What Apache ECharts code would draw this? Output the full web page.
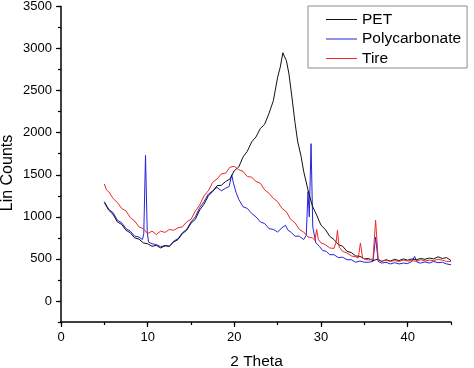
<!DOCTYPE html>
<html><head><meta charset="utf-8">
<script src="https://cdn.jsdelivr.net/npm/echarts@6/dist/echarts.min.js"></script>
<style>html,body{margin:0;padding:0;background:#fff}#c{width:474px;height:368px}</style>
</head><body><div id="c"></div>
<script>
const seriesNames = ['PET', 'Polycarbonate', 'Tire'];
const yMajorTicks = [0, 500, 1000, 1500, 2000, 2500, 3000, 3500];
const xMajorTicks = [0, 10, 20, 30, 40];
const petData = [[5.0,1170],[5.5,1080],[6.0,1030],[6.5,940],[7.0,910],[7.5,840],[8.0,810],[8.5,750],[9.0,735],[9.5,690],[10.0,680],[10.5,650],[11.0,660],[11.5,630],[12.0,655],[12.5,650],[13.0,700],[13.5,730],[14.0,800],[14.5,840],[15.0,925],[15.5,970],[16.0,1080],[16.5,1150],[17.0,1250],[17.5,1300],[18.0,1370],[18.5,1375],[19.0,1420],[19.5,1450],[20.0,1550],[20.5,1590],[21.0,1710],[21.5,1780],[22.0,1890],[22.5,1950],[23.0,2050],[23.5,2100],[24.0,2230],[24.5,2380],[25.0,2660],[25.3,2780],[25.6,2950],[25.8,2900],[26.0,2860],[26.3,2700],[26.6,2460],[27.0,2120],[27.3,1900],[27.7,1720],[28.0,1540],[28.5,1320],[29.0,1130],[29.5,1020],[30.0,900],[30.5,850],[31.0,770],[31.5,730],[32.0,670],[32.5,650],[33.0,590],[33.5,575],[34.0,535],[34.5,530],[35.0,500],[35.5,505],[36.0,480],[36.5,495],[37.0,470],[37.5,490],[38.0,475],[38.5,495],[39.0,480],[39.5,500],[40.0,485],[40.5,500],[41.0,490],[41.5,505],[42.0,495],[42.5,510],[43.0,500],[43.5,525],[44.0,505],[44.5,515],[45.0,480]];
const pcData = [[5.0,1180],[5.5,1090],[6.0,1050],[6.5,960],[7.0,930],[7.5,860],[8.0,830],[8.5,770],[9.0,760],[9.4,730],[9.55,800],[9.75,1730],[9.95,820],[10.1,700],[10.5,680],[11.0,670],[11.5,645],[12.0,660],[12.5,650],[13.0,710],[13.5,740],[14.0,810],[14.5,850],[15.0,940],[15.5,1000],[16.0,1110],[16.5,1180],[17.0,1270],[17.5,1310],[18.0,1350],[18.5,1310],[19.0,1340],[19.4,1360],[19.7,1500],[19.9,1400],[20.2,1290],[20.5,1210],[21.0,1120],[21.5,1100],[22.0,1040],[22.5,1000],[23.0,940],[23.5,920],[24.0,860],[24.5,850],[25.0,820],[25.5,870],[25.9,900],[26.2,840],[26.5,820],[27.0,770],[27.5,770],[28.0,730],[28.3,780],[28.5,1300],[28.65,1000],[28.85,1870],[29.05,880],[29.4,690],[29.8,650],[30.2,600],[30.6,590],[31.0,550],[31.5,550],[32.0,515],[32.5,520],[33.0,490],[33.5,490],[34.0,460],[34.5,475],[35.0,460],[35.5,460],[36.0,470],[36.3,760],[36.6,470],[37.0,450],[37.5,460],[38.0,440],[38.5,455],[39.0,440],[39.5,450],[40.0,445],[40.5,470],[40.8,530],[41.1,460],[41.5,450],[42.0,465],[42.5,450],[43.0,470],[43.5,455],[44.0,460],[44.5,440],[45.0,430]];
const tireData = [[5.0,1390],[5.25,1320],[5.5,1300],[6.0,1220],[6.5,1170],[7.0,1100],[7.5,1070],[8.0,990],[8.5,950],[9.0,880],[9.5,860],[10.0,800],[10.5,830],[11.0,790],[11.5,830],[12.0,815],[12.5,850],[13.0,840],[13.5,870],[14.0,880],[14.5,940],[15.0,970],[15.5,1070],[16.0,1140],[16.5,1250],[17.0,1310],[17.5,1410],[18.0,1450],[18.5,1510],[19.0,1520],[19.5,1590],[20.0,1600],[20.5,1560],[21.0,1540],[21.5,1480],[22.0,1470],[22.5,1420],[23.0,1400],[23.5,1320],[24.0,1280],[24.5,1220],[25.0,1180],[25.5,1100],[26.0,1060],[26.5,970],[27.0,930],[27.5,850],[28.0,820],[28.5,760],[29.0,750],[29.3,720],[29.5,850],[29.7,730],[30.0,690],[30.5,670],[31.0,630],[31.5,625],[31.75,700],[31.9,840],[32.1,640],[32.5,590],[33.0,570],[33.5,535],[34.0,525],[34.3,510],[34.55,690],[34.8,510],[35.0,500],[35.5,485],[36.0,500],[36.3,960],[36.6,495],[37.0,475],[37.5,485],[38.0,470],[38.5,480],[39.0,470],[39.5,485],[40.0,475],[40.5,480],[41.0,470],[41.5,490],[42.0,475],[42.5,485],[43.0,480],[43.5,495],[44.0,485],[44.5,470],[45.0,470]];

const FONT = 'Liberation Sans, Arial, sans-serif';
const chart = echarts.init(document.getElementById('c'), null, {renderer: 'canvas'});
const axisBase = {
  axisLine: {show: true, onZero: false, lineStyle: {color: '#000', width: 1.5}},
  splitLine: {show: false}
};
chart.setOption({
  animation: false,
  backgroundColor: '#fff',
  grid: {left: 61, right: 23, top: 5.5, bottom: 46},
  legend: {
    data: seriesNames, orient: 'vertical', left: 308, top: 6,
    padding: [5, 6, 1, 18], itemGap: 2.5, itemWidth: 31, itemHeight: 1, icon: 'rect',
    borderColor: '#8a8a8a', borderWidth: 1, backgroundColor: '#fff',
    textStyle: {fontFamily: FONT, fontSize: 15.5, color: '#000', lineHeight: 17}
  },
  xAxis: [
    Object.assign({}, axisBase, {
      type: 'value', min: 0, max: 45, interval: 5,
      axisTick: {show: true, inside: false, length: 3, lineStyle: {color: '#000', width: 1.2}},
      axisLabel: {fontFamily: FONT, fontSize: 13, color: '#000', margin: 9,
        formatter: v => (v % 10 === 0 ? String(v) : '')}
    }),
    {
      type: 'value', min: 0, max: 45, interval: 5, position: 'bottom',
      axisLine: {show: false, onZero: false}, splitLine: {show: false}, axisLabel: {show: false},
      axisTick: {show: true, length: 5, customValues: xMajorTicks, lineStyle: {color: '#000', width: 1.2}}
    }
  ],
  yAxis: [
    Object.assign({}, axisBase, {
      type: 'value', min: -250, max: 3500, interval: 250,
      axisTick: {show: true, inside: false, length: 3, lineStyle: {color: '#000', width: 1.2}},
      axisLabel: {fontFamily: FONT, fontSize: 13, color: '#000', margin: 9,
        formatter: v => (v >= 0 && v % 500 === 0 ? String(v) : '')}
    }),
    {
      type: 'value', min: -250, max: 3500, interval: 250, position: 'left',
      axisLine: {show: false, onZero: false}, splitLine: {show: false}, axisLabel: {show: false},
      axisTick: {show: true, length: 5, customValues: yMajorTicks, lineStyle: {color: '#000', width: 1.2}}
    }
  ],
  graphic: [
    {type: 'text', x: 8, y: 173, rotation: Math.PI / 2,
      style: {text: 'Lin Counts', font: '16px ' + FONT, fill: '#000', align: 'center', verticalAlign: 'middle'}},
    {type: 'text', x: 256.5, y: 362,
      style: {text: '2 Theta', font: '15.5px ' + FONT, fill: '#000', align: 'center', verticalAlign: 'middle'}}
  ],
  series: [
    {name: seriesNames[0], type: 'line', data: petData, showSymbol: false, symbol: 'none',
      lineStyle: {color: '#111', width: 1}, itemStyle: {color: '#111'}, z: 3},
    {name: seriesNames[1], type: 'line', data: pcData, showSymbol: false, symbol: 'none',
      lineStyle: {color: '#2424d8', width: 1}, itemStyle: {color: '#2424d8'}, z: 2},
    {name: seriesNames[2], type: 'line', data: tireData, showSymbol: false, symbol: 'none',
      lineStyle: {color: '#f02828', width: 1}, itemStyle: {color: '#f02828'}, z: 4}
  ]
});
</script></body></html>
